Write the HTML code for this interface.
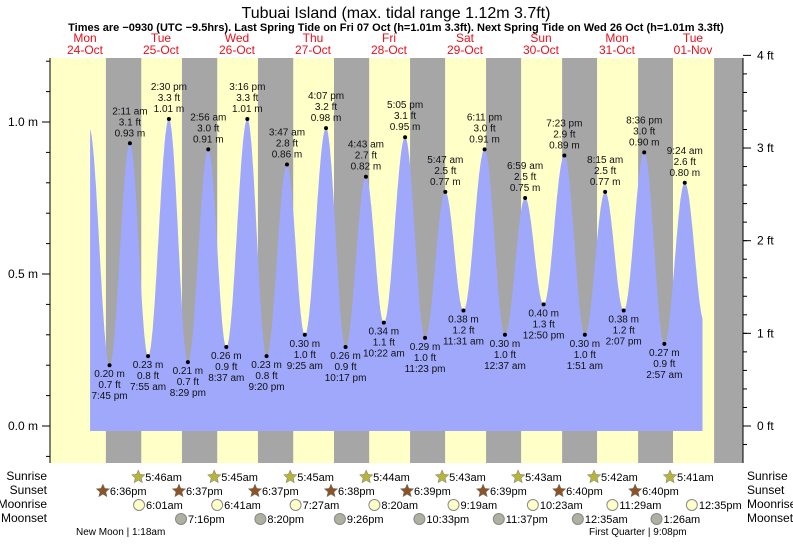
<!DOCTYPE html>
<html><head><meta charset="utf-8"><style>
body{margin:0;background:#fff;font-family:"Liberation Sans",sans-serif;}
svg text{font-family:"Liberation Sans",sans-serif;}
</style></head><body>
<svg id="c" width="793" height="539" xmlns="http://www.w3.org/2000/svg">
<text x="396" y="18" text-anchor="middle" font-size="16">Tubuai Island (max. tidal range 1.12m 3.7ft)</text>
<text x="396" y="31" text-anchor="middle" font-size="11" font-weight="bold">Times are −0930 (UTC −9.5hrs). Last Spring Tide on Fri 07 Oct (h=1.01m 3.3ft). Next Spring Tide on Wed 26 Oct (h=1.01m 3.3ft)</text>
<g id="bg"></g><g id="fill"></g><g id="labels"></g><g id="axes"></g><g id="bottom"></g>
</svg>
<script>
const dayNames=["Mon","Tue","Wed","Thu","Fri","Sat","Sun","Mon","Tue"];
const dayDates=["24-Oct","25-Oct","26-Oct","27-Oct","28-Oct","29-Oct","30-Oct","31-Oct","01-Nov"];
// tide extremes: day offset from Oct 24, time label, height (m), feet
const tideDays=[0,0,1,1,1,1,2,2,2,2,3,3,3,3,4,4,4,4,5,5,5,6,6,6,6,7,7,7,7,8,8,8];
const tideTimes=["1:20 pm","7:45 pm","2:11 am","7:55 am","2:30 pm","8:29 pm","2:56 am","8:37 am","3:16 pm","9:20 pm","3:47 am","9:25 am","4:07 pm","10:17 pm","4:43 am","10:22 am","5:05 pm","11:23 pm","5:47 am","11:31 am","6:11 pm","12:37 am","6:59 am","12:50 pm","7:23 pm","1:51 am","8:15 am","2:07 pm","8:36 pm","2:57 am","9:24 am","3:40 pm"];
const tideHeights=[0.98,0.20,0.93,0.23,1.01,0.21,0.91,0.26,1.01,0.23,0.86,0.30,0.98,0.26,0.82,0.34,0.95,0.29,0.77,0.38,0.91,0.30,0.75,0.40,0.89,0.30,0.77,0.38,0.90,0.27,0.80,0.34];
const tideFeet=["3.2","0.7","3.1","0.8","3.3","0.7","3.0","0.9","3.3","0.8","2.8","1.0","3.2","0.9","2.7","1.1","3.1","1.0","2.5","1.2","3.0","1.0","2.5","1.3","2.9","1.0","2.5","1.2","3.0","0.9","2.6","1.1"];
const sunriseTimes=["5:46am","5:45am","5:45am","5:44am","5:43am","5:43am","5:42am","5:41am"];
const sunsetTimes=["6:36pm","6:37pm","6:37pm","6:38pm","6:39pm","6:39pm","6:40pm","6:40pm","6:40pm"];
const moonriseTimes=["6:01am","6:41am","7:27am","8:20am","9:19am","10:23am","11:29am","12:35pm"];
const moonsetDays=[1,2,3,4,5,7,8];
const moonsetTimes=["7:16pm","8:20pm","9:26pm","10:33pm","11:37pm","12:35am","1:26am"];
const yTicksM=[0,0.5,1.0];
const yTicksFt=[0,1,2,3,4];

const NS="http://www.w3.org/2000/svg";
const L=50,R=743,T=58,B=463,tStart=13.6,tEnd=207;
function X(h){return 47+h*76/24;}
function Y(m){return 426-m*304;}
function hrs(s){const m=s.match(/(\d+):(\d+)\s*(am|pm)/);let h=+m[1]%12;if(m[3]=="pm")h+=12;return h+ +m[2]/60;}
function el(tag,a,p){const e=document.createElementNS(NS,tag);for(const k in a)e.setAttribute(k,a[k]);(p||document.getElementById("c")).appendChild(e);return e;}
const bg=document.getElementById("bg");
const r0=el("rect",{x:L,y:T,width:R-L,height:B-T,fill:"#ffffc8"},bg);


// nights
for(let d=0;d<9;d++){
  const s=d*24+hrs(sunsetTimes[d]);
  const e=d<8?(d+1)*24+hrs(sunriseTimes[d]):300;
  const x1=X(s),x2=Math.min(X(e),R);
  const n=el("rect",{x:x1,y:T,width:x2-x1,height:B-T,fill:"#a6a6a6"},bg);
  
  
}
// day labels
for(let d=0;d<9;d++){
  const x=X(d*24+12);
  const a=el("text",{x:x,y:42,"text-anchor":"middle","font-size":"12",fill:"#e8101a"});a.textContent=dayNames[d];
  
  
  const b=el("text",{x:x,y:54,"text-anchor":"middle","font-size":"12",fill:"#e8101a"});b.textContent=dayDates[d];
  
  
}
// curve
const tt=tideTimes.map((s,i)=>tideDays[i]*24+hrs(s));
function hAt(t){for(let i=0;i<tt.length-1;i++){if(t>=tt[i]&&t<=tt[i+1]){const f=(t-tt[i])/(tt[i+1]-tt[i]);return tideHeights[i]+(tideHeights[i+1]-tideHeights[i])*(1-Math.cos(Math.PI*f))/2;}}return tideHeights[tideHeights.length-1];}
let d=`M${X(tStart)},431`;
for(let t=tStart;t<=tEnd+0.001;t+=0.1)d+=` L${X(t).toFixed(1)},${Y(hAt(t)).toFixed(1)}`;
d+=` L${X(tEnd)},431 Z`;
const area=el("path",{d:d,fill:"#9fa8fb"},document.getElementById("fill"));


// labels
const lg=document.getElementById("labels");
for(let i=1;i<tt.length-1;i++){
  const x=X(tt[i]),y=Y(tideHeights[i]);
  const hi=tideHeights[i]>tideHeights[i-1];
  const dot=el("circle",{cx:x,cy:y,r:2,fill:"#000"},lg);
  
  
  const lines=hi?[tideTimes[i],tideFeet[i]+" ft",tideHeights[i].toFixed(2)+" m"]:[tideHeights[i].toFixed(2)+" m",tideFeet[i]+" ft",tideTimes[i]];
  const y0=hi?y-29:y+12;
  lines.forEach((s,k)=>{const t=el("text",{x:x,y:y0+k*11,"text-anchor":"middle","font-size":"10",fill:"#111"},lg);t.textContent=s;
    
    });
}
// axes
const ax=document.getElementById("axes");
el("line",{x1:L,y1:T,x2:L,y2:B,stroke:"#000"},ax);
el("line",{x1:R,y1:T,x2:R,y2:B,stroke:"#000"},ax);
for(let v=-0.1;v<=1.2;v+=0.1){const y=Y(v);if(y<T||y>B)continue;el("line",{x1:L-4,y1:y,x2:L,y2:y,stroke:"#000"},ax);}
yTicksM.forEach(v=>{const y=Y(v);el("line",{x1:L-8,y1:y,x2:L,y2:y,stroke:"#000"},ax);
  const t=el("text",{x:L-12,y:y+4,"text-anchor":"end","font-size":"12"},ax);t.textContent=v.toFixed(1)+" m";
  
  });
function Yf(f){return Y(f*0.3048);}
for(let v=-0.4;v<=4.2;v+=0.2){const y=Yf(v);if(y<T||y>B)continue;el("line",{x1:R,y1:y,x2:R+4,y2:y,stroke:"#000"},ax);}
yTicksFt.forEach(v=>{const y=Yf(v);el("line",{x1:R,y1:y,x2:R+8,y2:y,stroke:"#000"},ax);
  const t=el("text",{x:R+14,y:y+4,"font-size":"12"},ax);t.textContent=v+" ft";
  
  });
// bottom rows
const bt=document.getElementById("bottom");
const rows=[["Sunrise",480],["Sunset",494],["Moonrise",508],["Moonset",522]];
rows.forEach(r=>{const a=el("text",{x:47,y:r[1],"text-anchor":"end","font-size":"12"},bt);a.textContent=r[0];
  
  
  const b=el("text",{x:747,y:r[1],"font-size":"12"},bt);b.textContent=r[0];
  
  });
function star(cx,cy,fill){let p="";for(let k=0;k<10;k++){const a=-Math.PI/2+k*Math.PI/5,rr=k%2?3.2:7;p+=(cx+rr*Math.cos(a)).toFixed(1)+","+(cy+rr*Math.sin(a)).toFixed(1)+" ";}return el("polygon",{points:p,fill:fill,stroke:"#777","stroke-width":"0.5"},bt);}
function evt(t,y,kind,txt){
  const x=X(t)-3;let ic;
  if(kind=="sr")ic=star(x,y-4,"#b8b43a");
  else if(kind=="ss")ic=star(x,y-4,"#8b5326");
  else ic=el("circle",{cx:x,cy:y-4,r:5.5,fill:kind=="mr"?"#ffffc8":"#b0b0a0",stroke:"#888"},bt);
  
  
  const tx=el("text",{x:x+7,y:y,"font-size":"11"},bt);tx.textContent=txt;
  
  
}
sunriseTimes.forEach((s,i)=>evt((i+1)*24+hrs(s),481,"sr",s));
sunsetTimes.slice(0,8).forEach((s,i)=>evt(i*24+hrs(s),495,"ss",s));
moonriseTimes.forEach((s,i)=>evt((i+1)*24+hrs(s),509,"mr",s));
moonsetTimes.forEach((s,i)=>evt(moonsetDays[i]*24+hrs(s),523,"ms",s));
const nm=el("text",{x:76,y:535,"font-size":"10"},bt);nm.textContent="New Moon | 1:18am";


const fq=el("text",{x:589,y:535,"font-size":"10"},bt);fq.textContent="First Quarter | 9:08pm";


</script>
</body></html>
